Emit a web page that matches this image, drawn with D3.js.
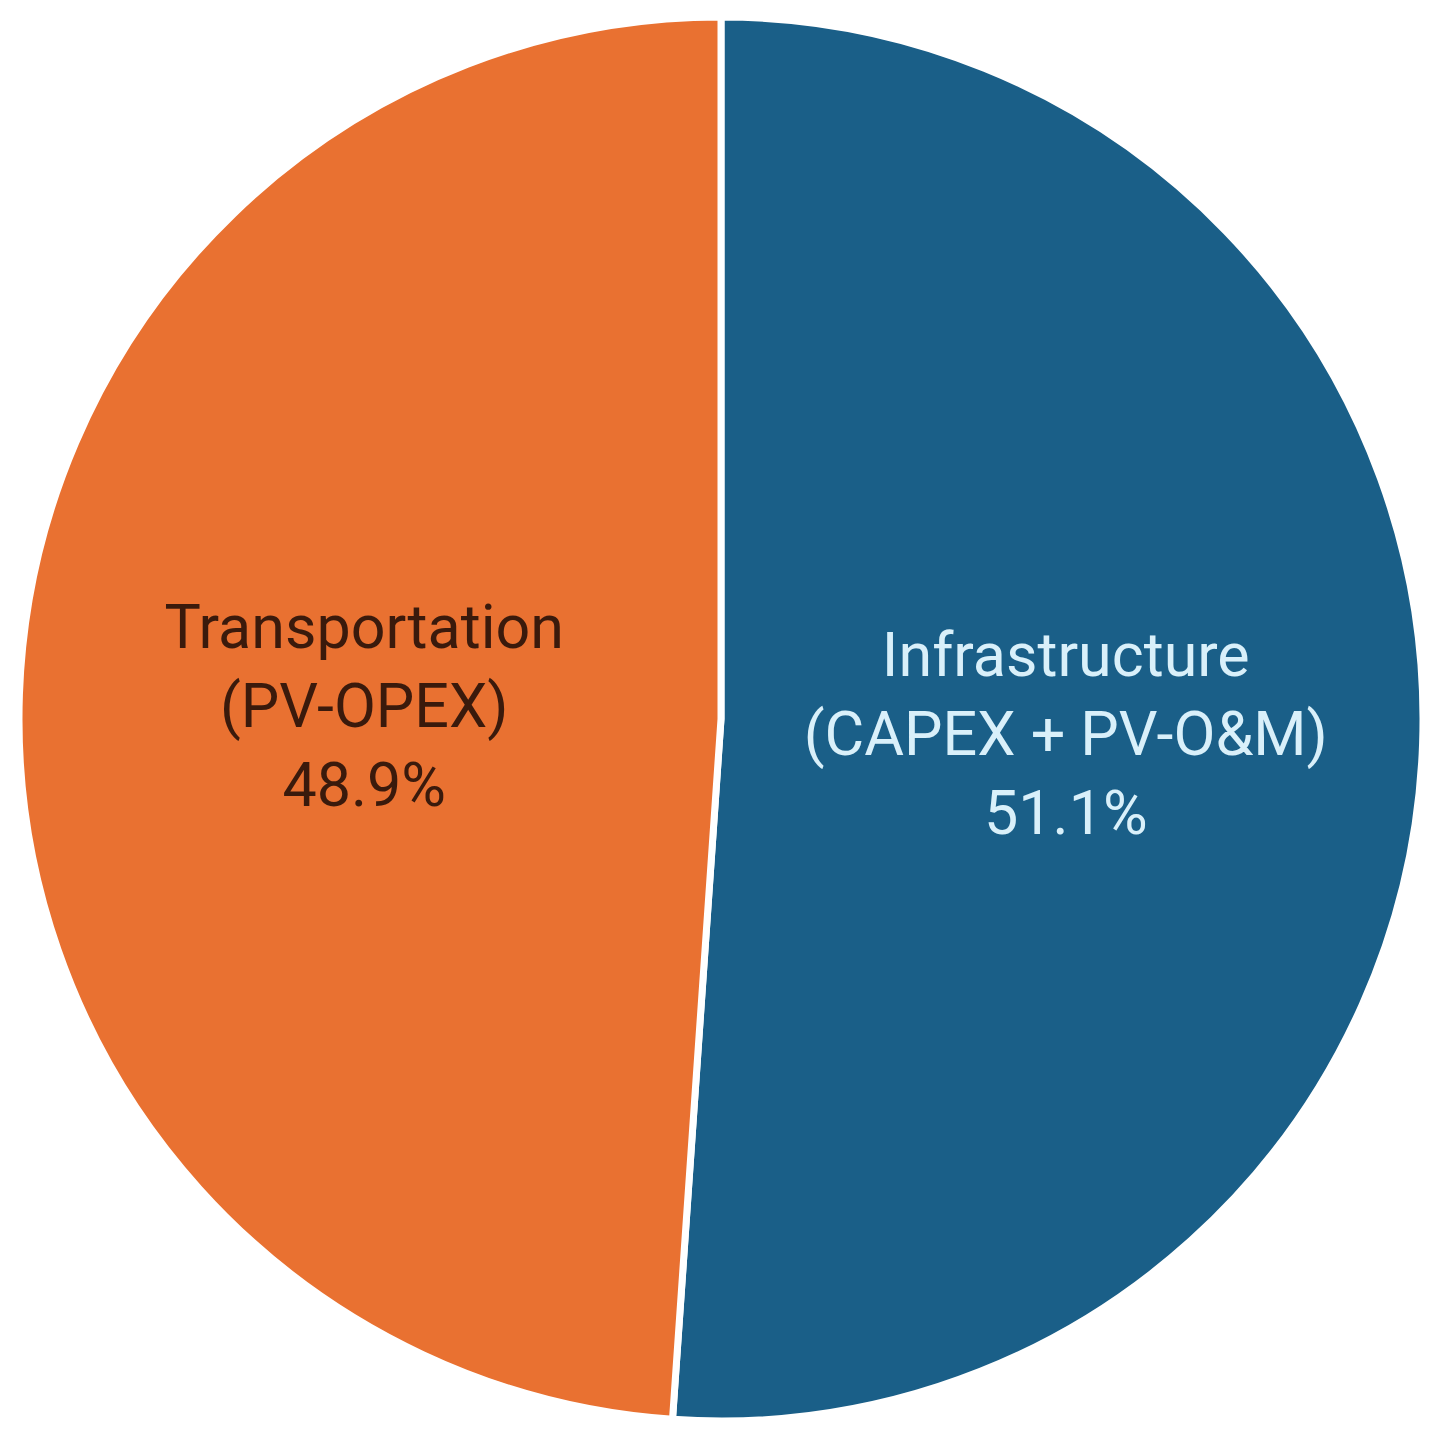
<!DOCTYPE html>
<html>
<head>
<meta charset="utf-8">
<script src="https://cdn.jsdelivr.net/npm/d3@7"></script>
<style>
  html, body { margin: 0; padding: 0; background: #ffffff; }
  svg { display: block; }
</style>
</head>
<body>
<div id="chart"></div>
<script>
// slice data, clockwise from 12 o'clock
var categories = ["Infrastructure", "Transportation"];
var subLabels = ["(CAPEX + PV-O&M)", "(PV-OPEX)"];
var shares = [51.1, 48.9];
var colours = ["#1a5f88", "#e97131"];
var textColours = ["#d9f0fa", "#3a1a0c"];

var width = 1439;
var height = 1435;
var cx = 721, cy = 719, radius = 702;

var svg = d3.select("#chart")
  .append("svg")
  .attr("width", width)
  .attr("height", height);

var slices = categories.map(function (c, i) {
  return { name: c, sub: subLabels[i], value: shares[i], i: i };
});

var pie = d3.pie()
  .sort(null)
  .value(function (d) { return d.value; });

var arc = d3.arc().innerRadius(0).outerRadius(radius);

var g = svg.append("g")
  .attr("transform", "translate(" + cx + "," + cy + ")");

g.selectAll("path.slice")
  .data(pie(slices))
  .enter()
  .append("path")
  .attr("class", "slice")
  .attr("d", arc)
  .attr("fill", function (d) { return colours[d.data.i]; })
  .attr("stroke", "#ffffff")
  .attr("stroke-width", 7)
  .attr("stroke-linejoin", "round");

// labels around the arc centroid, nudged a little like the original
var labelArc = d3.arc().innerRadius(0).outerRadius(radius);
var nudge = [[-6, 8], [-6, 4]];
var lineGap = 79;

var labels = g.selectAll("text.label")
  .data(pie(slices))
  .enter()
  .append("text")
  .attr("class", "label")
  .attr("text-anchor", "middle")
  .attr("font-family", "Roboto, 'Liberation Sans', sans-serif")
  .attr("font-size", 61)
  .attr("fill", function (d) { return textColours[d.data.i]; })
  .attr("transform", function (d) {
    var c = labelArc.centroid(d);
    var n = nudge[d.data.i];
    return "translate(" + (c[0] + n[0]) + "," + (c[1] + n[1]) + ")";
  });

labels.each(function (d) {
  var t = d3.select(this);
  var lines = [d.data.name, d.data.sub, d3.format(".1f")(d.data.value) + "%"];
  lines.forEach(function (txt, k) {
    t.append("tspan")
      .attr("x", 0)
      .attr("y", (k - 1) * lineGap + 16)
      .text(txt);
  });
});
</script>
</body>
</html>
